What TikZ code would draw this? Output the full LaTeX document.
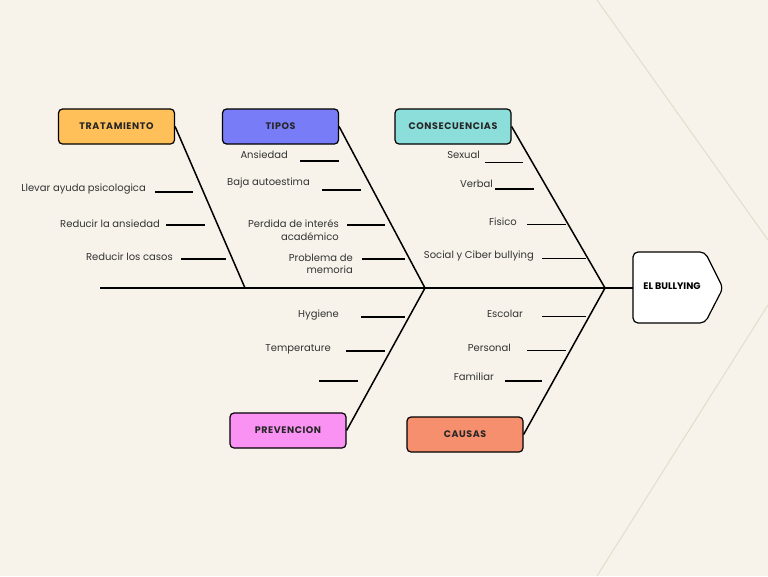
\documentclass[tikz,border=0pt]{standalone}
\usepackage{fontspec}
\setmainfont{Poppins}
\newfontfamily\titlefont[LetterSpace=6]{Poppins}
\definecolor{bg}{HTML}{F7F3EA}
\definecolor{deco}{HTML}{E2DDCC}
\definecolor{cOr}{HTML}{FFC05A}
\definecolor{cBl}{HTML}{787CF6}
\definecolor{cTe}{HTML}{8CDEDA}
\definecolor{cPi}{HTML}{FA92F3}
\definecolor{cSa}{HTML}{F58F6E}
\begin{document}
\begin{tikzpicture}[x=1pt,y=-1pt,
  cat/.style={draw=black,line width=1.2pt,rounded corners=4pt,minimum width=116pt,minimum height=35pt,font=\titlefont\fontsize{9.5}{11}\selectfont\bfseries,text=black!85},
  bone/.style={line width=1.5pt,black},
  rib/.style={line width=1.5pt,black},
  lbl/.style={anchor=east,font=\fontsize{10}{12.5}\selectfont,text=black!80,align=right,inner sep=0pt}]
\fill[bg] (0,0) rectangle (768,576);
\useasboundingbox (0,0) rectangle (768,576);
\draw[deco,line width=1pt] (597,0) -- (768,240);
\draw[deco,line width=1pt] (768,305) -- (597,576);
% head
\draw[line width=1.2pt,fill=white,rounded corners=5pt] (633,252) -- (705,252) -- (723,288) -- (705,323) -- (633,323) -- cycle;
\node[font=\fontsize{9.5}{11}\selectfont\bfseries] (head) at (672,286) {EL BULLYING};
\coordinate (tail) at (100,288);
\coordinate (j1) at (245,288);
\coordinate (j2) at (425,288);
\coordinate (j3) at (605,288);
\coordinate (hl) at (633,288);
\draw[bone] (tail) -- (hl);
% categories
\node[cat,fill=cOr] (trat) at (116.5,126.5) {TRATAMIENTO};
\node[cat,fill=cBl] (tipos) at (280.5,126.5) {TIPOS};
\node[cat,fill=cTe] (cons) at (453,126.5) {CONSECUENCIAS};
\node[cat,fill=cPi] (prev) at (288,430.5) {PREVENCION};
\node[cat,fill=cSa] (caus) at (465,434.5) {CAUSAS};
\draw[bone] (trat.east) -- (j1);
\draw[bone] (tipos.east) -- (j2);
\draw[bone] (cons.east) -- (j3);
\draw[bone] (prev.east) -- (j2);
\draw[bone] (caus.east) -- (j3);
% ribs tratamiento
\node[lbl] (a1) at (146,189) {Llevar ayuda psicologica};
\draw[rib] (155,192) -- (193,192);
\node[lbl] (a2) at (160,224) {Reducir la ansiedad};
\draw[rib] (166,225) -- (205,225);
\node[lbl] (a3) at (173,257) {Reducir los casos};
\draw[rib] (181,259) -- (226,259);
% tipos
\node[lbl] (b1) at (288,155) {Ansiedad};
\draw[rib] (300,161) -- (339,161);
\node[lbl] (b2) at (310,183) {Baja autoestima};
\draw[rib] (322,190) -- (361,190);
\node[lbl] (b3) at (339,230) {Perdida de interés\\académico};
\draw[rib] (347,225) -- (385,225);
\node[lbl] (b4) at (353,264) {Problema de\\memoria};
\draw[rib] (362,259) -- (405,259);
% consecuencias
\node[lbl] (c1) at (480,155) {Sexual};
\draw[line width=1pt] (485,162) -- (523,162);
\node[lbl] (c2) at (493,184) {Verbal};
\draw[rib] (495,189) -- (534,189);
\node[lbl] (c3) at (517,222) {Fisico};
\draw[line width=1pt] (527,224) -- (566,224);
\node[lbl] (c4) at (534,256) {Social y Ciber bullying};
\draw[line width=1pt] (542,258) -- (586,258);
% prevencion
\node[lbl] (d1) at (339,315) {Hygiene};
\draw[rib] (361,317) -- (405,317);
\node[lbl] (d2) at (331,349) {Temperature};
\draw[rib] (346,351) -- (385,351);
\draw[rib] (319,381) -- (358,381);
% causas
\node[lbl] (e1) at (523,314) {Escolar};
\draw[line width=1pt] (542,316) -- (586,316);
\node[lbl] (e2) at (511,348) {Personal};
\draw[line width=1pt] (527,350) -- (566,350);
\node[lbl] (e3) at (494,377) {Familiar};
\draw[rib] (505,381) -- (542,381);
\end{tikzpicture}
\end{document}
